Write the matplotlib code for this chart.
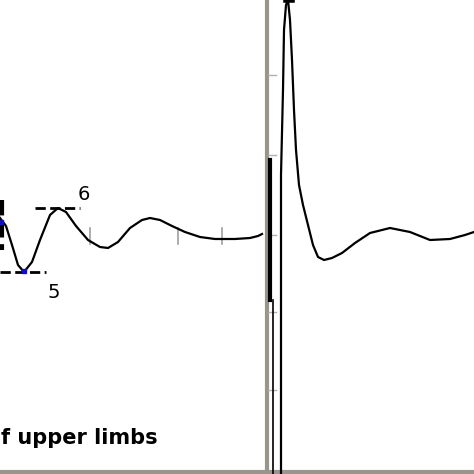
import matplotlib.pyplot as plt

# trace in image pixel coordinates (x right, y down)
left_x = [0, 6, 12, 18, 24, 32, 40, 50, 58, 66, 76, 88, 100, 108, 118, 130, 142, 150, 160, 172, 185, 200, 215, 235, 250, 258, 262]
left_y = [218, 226, 245, 265, 272, 262, 240, 215, 208, 212, 226, 240, 247, 248, 242, 228, 220, 218, 220, 226, 232, 237, 239, 239, 238, 236, 234]

right_x = [281, 281, 283, 284, 286, 288, 290, 292, 294, 296, 299, 303, 308, 313, 318, 324, 332, 342, 355, 370, 390, 410, 430, 450, 465, 474]
right_y = [474, 175, 90, 30, 5, 0, 20, 60, 110, 150, 185, 205, 225, 245, 257, 260, 258, 253, 243, 233, 228, 232, 240, 239, 235, 232]

tick_x = [90, 178, 222]
axis_tick_y = [75, 155, 235, 312, 390]

fig = plt.figure(figsize=(4.74, 4.74), dpi=100)
ax = fig.add_axes([0, 0, 1, 1])
ax.set_xlim(0, 474)
ax.set_ylim(474, 0)
ax.axis("off")

# gray axis lines
ax.plot([267, 267], [0, 474], color="#9a958c", lw=3)
ax.plot([0, 474], [472, 472], color="#9a958c", lw=3)
for y in axis_tick_y:
    ax.plot([268, 276], [y, y], color="#b0b0b0", lw=1)
for x in tick_x:
    ax.plot([x, x], [228, 244], color="#a0a0a0", lw=1.2)

# signal
ax.plot(left_x, left_y, color="black", lw=1.6)
ax.plot([270, 270], [160, 300], color="black", lw=3)
ax.plot([273, 273], [300, 474], color="black", lw=1.2)
ax.plot(right_x, right_y, color="black", lw=1.6)
ax.plot([286, 292], [0, 0], color="black", lw=4)

# markers
ax.plot([35, 80], [208, 208], color="black", lw=2, ls="--")
ax.plot([0, 46], [272, 272], color="black", lw=2, ls="--")
ax.plot([2, 2], [200, 250], color="black", lw=3, ls="--")
ax.plot([24], [271], marker="s", color="#1010c0", ms=3)
ax.plot([1], [222], marker="s", color="#1010c0", ms=3)
ax.text(78, 195, "6", fontsize=14, va="center")
ax.text(48, 292, "5", fontsize=14, va="center")
ax.text(1, 438, "f upper limbs", fontsize=15, fontweight="bold", va="center")

fig.savefig("out.png", dpi=100)
